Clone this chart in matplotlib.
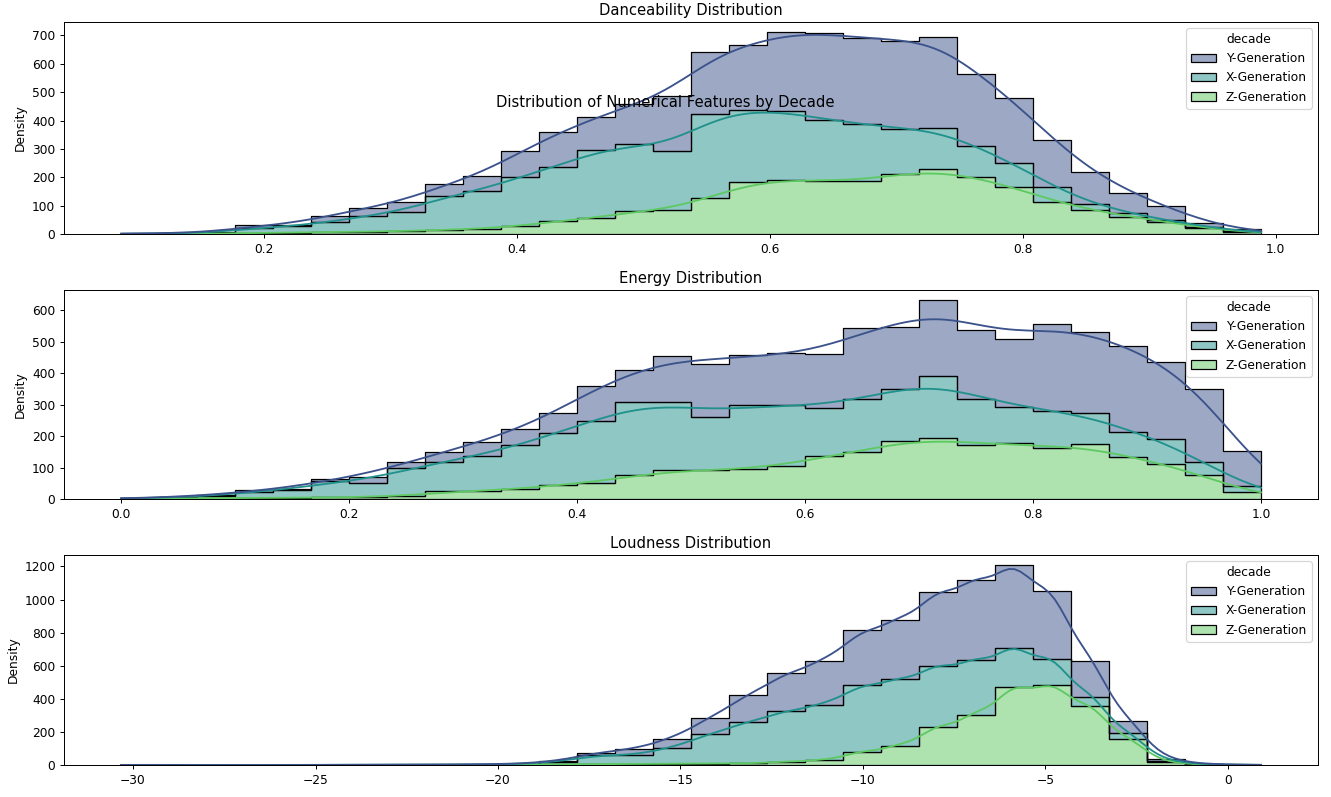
import numpy as np
import pandas as pd
import matplotlib
matplotlib.use("Agg")
import matplotlib.pyplot as plt
import seaborn as sns


DECADES = ["Y-Generation", "X-Generation", "Z-Generation"]
N_BINS = 30

# ── bin counts (one value per bin) ──
DANCE_RANGE = (0.0873, 0.9885)
DANCE_Y = [1, 1, 2, 9, 6, 24, 28, 35, 42, 54, 89, 120, 116, 140, 194,
           220, 227, 278, 305, 304, 310, 320, 256, 226, 165, 114, 73, 50, 13, 7]
DANCE_X = [1, 2, 3, 17, 22, 35, 57, 68, 120, 134, 174, 193, 239, 239, 208,
           295, 255, 242, 216, 201, 158, 146, 109, 85, 51, 21, 12, 5, 5, 2]
DANCE_Z = [0, 0, 1, 4, 5, 6, 8, 11, 14, 18, 28, 45, 57, 80, 84,
           128, 183, 192, 187, 187, 212, 228, 200, 167, 114, 85, 61, 44, 20, 7]

ENERGY_RANGE = (0.0, 1.0)
ENERGY_Y = [1, 1, 3, 4, 4, 7, 20, 21, 31, 42, 51, 63, 110, 103, 146,
            167, 159, 164, 170, 223, 198, 241, 218, 216, 277, 257, 272, 245, 232, 111]
ENERGY_X = [1, 3, 6, 20, 25, 53, 45, 89, 94, 114, 138, 166, 198, 233, 217,
            170, 204, 193, 154, 169, 163, 196, 147, 116, 117, 98, 82, 78, 40, 19]
ENERGY_Z = [1, 2, 3, 3, 3, 5, 6, 8, 24, 24, 32, 45, 51, 75, 91,
            91, 95, 106, 135, 150, 185, 195, 172, 177, 162, 174, 132, 112, 77, 21]

LOUD_RANGE = (-30.33, 0.91)
LOUD_Y = [1, 0, 0, 0, 0, 0, 0, 0, 1, 1, 2, 4, 17, 36, 56,
          97, 165, 227, 263, 329, 359, 446, 484, 500, 409, 215, 76, 10, 2, 1]
LOUD_X = [0, 0, 0, 0, 0, 1, 1, 2, 1, 2, 4, 16, 53, 54, 97,
          179, 251, 307, 335, 406, 402, 367, 329, 237, 161, 57, 36, 10, 2, 0]
LOUD_Z = [0, 0, 0, 0, 0, 0, 0, 0, 1, 1, 2, 4, 5, 6, 7,
          9, 10, 20, 30, 80, 116, 231, 305, 472, 482, 355, 155, 16, 2, 1]

FEATURES = [
    ("Danceability", DANCE_RANGE, [DANCE_Y, DANCE_X, DANCE_Z]),
    ("Energy", ENERGY_RANGE, [ENERGY_Y, ENERGY_X, ENERGY_Z]),
    ("Loudness", LOUD_RANGE, [LOUD_Y, LOUD_X, LOUD_Z]),
]


def expand_counts(rng, counts_by_decade):
    """Turn per-bin counts into observations at the bin centres."""
    edges = np.linspace(rng[0], rng[1], N_BINS + 1)
    centres = 0.5 * (edges[:-1] + edges[1:])
    frames = []
    for dec, counts in zip(DECADES, counts_by_decade):
        vals = np.repeat(centres, counts)
        frames.append(pd.DataFrame({"value": vals, "decade": dec}))
    return pd.concat(frames, ignore_index=True), edges


W, H = 1331, 797
DPI = W / 15
fig = plt.figure(figsize=(W / DPI, H / DPI), dpi=DPI)

# axes boxes in pixels: (top, bottom)
boxes = [(22, 234), (290, 499), (555, 765)]
left_px, right_px = 64, 1318

for (name, rng, counts), (top, bot) in zip(FEATURES, boxes):
    ax = fig.add_axes([left_px / W, 1 - bot / H,
                       (right_px - left_px) / W, (bot - top) / H])
    df, edges = expand_counts(rng, counts)
    sns.histplot(data=df, x="value", hue="decade", hue_order=DECADES,
                 multiple="stack", element="step", kde=True, bins=edges,
                 palette="viridis", ax=ax,
                 kde_kws={"cut": 3, "clip": (edges[0], edges[-1])})
    ax.set_title(f"{name} Distribution")
    ax.set_xlabel("")
    ax.set_ylabel("Density")
    sns.move_legend(ax, "upper right", title="decade")

fig.suptitle("Distribution of Numerical Features by Decade",
             y=1 - 102 / H, va="center", fontsize=12)

fig.savefig("out.png", dpi=DPI)
